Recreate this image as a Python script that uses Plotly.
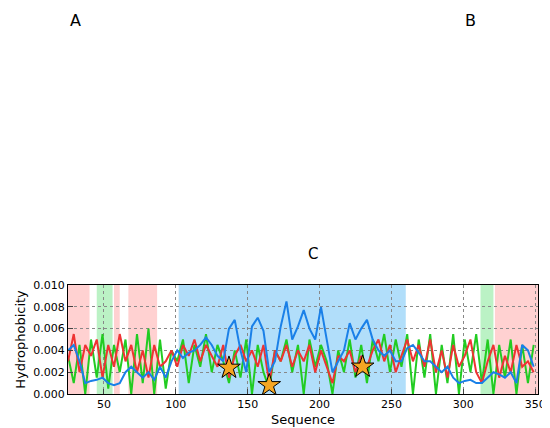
import plotly.graph_objs as go

seq_start = 25
seq_step = 4

blue_vals = [0.0040, 0.0045, 0.0030, 0.0010, 0.0012, 0.0013, 0.0015, 0.0010, 0.0008, 0.0010,
             0.0020, 0.0025, 0.0020, 0.0015, 0.0020, 0.0013, 0.0025, 0.0015, 0.0030, 0.0040,
             0.0033, 0.0038, 0.0040, 0.0045, 0.0052, 0.0045, 0.0035, 0.0030, 0.0060, 0.0068,
             0.0040, 0.0020, 0.0062, 0.0070, 0.0058, 0.0020, 0.0030, 0.0062, 0.0085, 0.0050,
             0.0062, 0.0077, 0.0060, 0.0050, 0.0080, 0.0050, 0.0020, 0.0030, 0.0040, 0.0065,
             0.0050, 0.0060, 0.0068, 0.0050, 0.0040, 0.0035, 0.0040, 0.0030, 0.0030, 0.0042,
             0.0045, 0.0038, 0.0030, 0.0030, 0.0025, 0.0020, 0.0025, 0.0015, 0.0010, 0.0012,
             0.0013, 0.0010, 0.0010, 0.0015, 0.0020, 0.0018, 0.0015, 0.0020, 0.0010, 0.0045,
             0.0040, 0.0025]
green_vals = [0.0035, 0.0010, 0.0045, 0.0000, 0.0050, 0.0015, 0.0055, 0.0005, 0.0045, 0.0020,
              0.0050, 0.0000, 0.0055, 0.0010, 0.0060, 0.0000, 0.0050, 0.0005, 0.0040, 0.0030,
              0.0050, 0.0010, 0.0045, 0.0025, 0.0055, 0.0020, 0.0045, 0.0030, 0.0010, 0.0040,
              0.0015, 0.0050, 0.0000, 0.0045, 0.0020, 0.0005, 0.0040, 0.0030, 0.0050, 0.0020,
              0.0045, 0.0000, 0.0050, 0.0025, 0.0045, 0.0030, 0.0000, 0.0040, 0.0020, 0.0050,
              0.0015, 0.0045, 0.0010, 0.0050, 0.0030, 0.0055, 0.0020, 0.0050, 0.0025, 0.0055,
              0.0000, 0.0050, 0.0015, 0.0055, 0.0000, 0.0045, 0.0010, 0.0055, 0.0000, 0.0050,
              0.0020, 0.0055, 0.0010, 0.0050, 0.0000, 0.0045, 0.0015, 0.0050, 0.0000, 0.0045,
              0.0010, 0.0045]
red_vals = [0.0030, 0.0055, 0.0020, 0.0045, 0.0035, 0.0050, 0.0015, 0.0045, 0.0025, 0.0055,
            0.0030, 0.0045, 0.0020, 0.0040, 0.0015, 0.0045, 0.0025, 0.0030, 0.0040, 0.0025,
            0.0045, 0.0035, 0.0050, 0.0030, 0.0045, 0.0035, 0.0025, 0.0045, 0.0015, 0.0035,
            0.0045, 0.0030, 0.0040, 0.0025, 0.0045, 0.0010, 0.0040, 0.0030, 0.0045, 0.0025,
            0.0040, 0.0030, 0.0045, 0.0020, 0.0040, 0.0025, 0.0010, 0.0035, 0.0030, 0.0040,
            0.0020, 0.0035, 0.0025, 0.0040, 0.0050, 0.0030, 0.0045, 0.0020, 0.0035, 0.0050,
            0.0030, 0.0045, 0.0025, 0.0050, 0.0020, 0.0040, 0.0015, 0.0045, 0.0025, 0.0035,
            0.0050, 0.0020, 0.0010, 0.0030, 0.0045, 0.0015, 0.0035, 0.0020, 0.0045, 0.0025,
            0.0030, 0.0020]

# shaded regions: (start, end, colour)
regions = [(25, 40, 'red'), (45, 56, 'green'), (57, 61, 'red'), (67, 87, 'red'),
           (102, 260, 'blue'), (312, 321, 'green'), (322, 352, 'red')]
region_colors = {'red': 'rgba(255,140,140,0.4)', 'green': 'rgba(120,230,140,0.5)',
                 'blue': 'rgba(100,190,245,0.5)'}

star_x = [137, 165, 230]
star_y = [0.0024, 0.0008, 0.0025]

seq = [seq_start + seq_step * i for i in range(len(blue_vals))]

fig = go.Figure()
for s, e, c in regions:
    fig.add_vrect(x0=s, x1=e, fillcolor=region_colors[c], line_width=0, layer='below')

fig.add_trace(go.Scatter(x=seq, y=green_vals, mode='lines', line=dict(color='#22cc22', width=2)))
fig.add_trace(go.Scatter(x=seq, y=red_vals, mode='lines', line=dict(color='#ee3333', width=2)))
fig.add_trace(go.Scatter(x=seq, y=blue_vals, mode='lines', line=dict(color='#1a80e8', width=2)))
fig.add_trace(go.Scatter(x=star_x, y=star_y, mode='markers',
                         marker=dict(symbol='star', size=17, color='#f5a623',
                                     line=dict(color='black', width=1))))

fig.update_layout(
    width=550, height=428, showlegend=False,
    paper_bgcolor='white', plot_bgcolor='white',
    margin=dict(l=57, r=15, t=277, b=40),
    font=dict(family='DejaVu Sans', size=11, color='black'),
    title=dict(text='C', x=0.555, y=0.425, xanchor='center', font=dict(size=15)),
    annotations=[dict(text='A', x=0.0, y=3.53, xref='paper', yref='paper', yanchor='top',
                      showarrow=False, font=dict(size=16), xanchor='left'),
                 dict(text='B', x=0.84, y=3.53, xref='paper', yref='paper', yanchor='top',
                      showarrow=False, font=dict(size=16), xanchor='left')],
)
fig.update_xaxes(range=[25, 352], tickvals=[50, 100, 150, 200, 250, 300, 350],
                 title=dict(text='Sequence', standoff=4), showline=True, linecolor='black',
                 mirror=True, ticks='inside', showgrid=True, gridcolor='#888',
                 griddash='dot', zeroline=False)
fig.update_yaxes(range=[0, 0.010], tickvals=[0, 0.002, 0.004, 0.006, 0.008, 0.010],
                 tickformat='.3f', title=dict(text='Hydrophobicity', standoff=4),
                 showline=True, linecolor='black', mirror=True, ticks='inside',
                 showgrid=True, gridcolor='#888', griddash='dot', zeroline=False)
fig.write_html("out.html")
